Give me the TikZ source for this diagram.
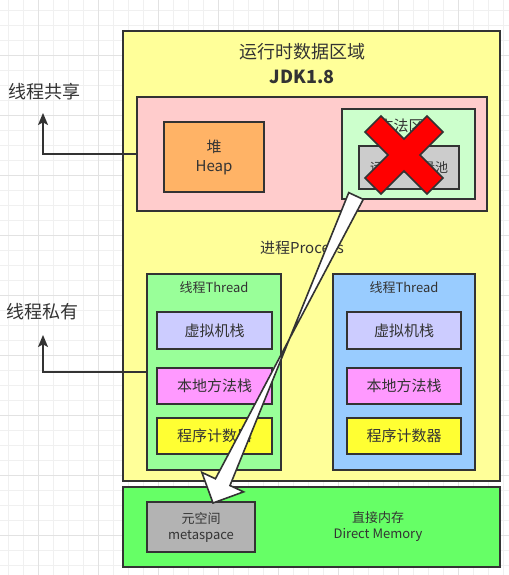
\documentclass[tikz,border=0pt]{standalone}
\usepackage{fontspec}
\setmainfont{Noto Sans CJK SC}
\usepackage{tikz}
\usetikzlibrary{calc,arrows.meta}
\definecolor{edge}{HTML}{333333}
\definecolor{runtime}{HTML}{FFFF99}
\definecolor{shared}{HTML}{FFCCCC}
\definecolor{heapc}{HTML}{FFB366}
\definecolor{methodc}{HTML}{CCFFCC}
\definecolor{poolc}{HTML}{CCCCCC}
\definecolor{threadA}{HTML}{99FF99}
\definecolor{threadB}{HTML}{99CCFF}
\definecolor{vmstack}{HTML}{CCCCFF}
\definecolor{native}{HTML}{FF99FF}
\definecolor{pcreg}{HTML}{FFFF33}
\definecolor{direct}{HTML}{66FF66}
\definecolor{metac}{HTML}{B3B3B3}
\definecolor{gridminor}{HTML}{F0F0F0}
\definecolor{gridmajor}{HTML}{E2E2E2}
\tikzset{
  box/.style={draw=edge, line width=1.5pt, inner sep=0pt, text=edge, align=center},
  sz/.style 2 args={minimum width=#1*0.75pt, minimum height=#2*0.75pt},
  txt/.style={text=edge, inner sep=0pt, align=center},
  big/.style={font=\fontsize{13.5pt}{16pt}\selectfont},
  mid/.style={font=\fontsize{11.25pt}{14.25pt}\selectfont},
  small/.style={font=\fontsize{9.75pt}{12pt}\selectfont},
  link/.style={draw=edge, line width=1.1pt, -{Stealth[length=9pt,width=7.5pt,inset=2pt]}},
}

\begin{document}
\begin{tikzpicture}[x=0.75pt,y=-0.75pt]
\useasboundingbox (0,0) rectangle (509,575);
% background grid
\fill[white] (0,0) rectangle (509,575);
\foreach \x in {8,23,...,503} \draw[gridminor,line width=0.75pt] (\x,0) -- (\x,575);
\foreach \y in {10,25,...,565} \draw[gridminor,line width=0.75pt] (0,\y) -- (509,\y);
\foreach \x in {38,98,...,458} \draw[gridmajor,line width=0.75pt] (\x,0) -- (\x,575);
\foreach \y in {55,115,...,535} \draw[gridmajor,line width=0.75pt] (0,\y) -- (509,\y);

% runtime data area
\node[box, fill=runtime, sz={377}{450}] (rt) at (311.5,256) {};
\node[txt, big] (rttitle) at (302,52) {运行时数据区域};
\node[txt, font=\fontsize{13.5pt}{16pt}\bfseries\selectfont] (jdk) at (302,77) {JDK1.8};

% shared part
\node[box, fill=shared, sz={350}{114}] (share) at (312,154) {};
\node[box, fill=heapc, mid, sz={100}{70}] (heap) at (214,157) {堆\\Heap};
\node[box, fill=methodc, sz={133}{90}] (method) at (408.5,154) {};
\node[txt, mid] (methodtitle) at (401,126) {方法区};
\node[box, fill=poolc, small, sz={100}{43}] (pool) at (409,167.5) {运行时常量池};

\node[txt, mid] (process) at (302,248) {进程Process};

% threads
\node[box, fill=threadA, sz={134}{196}] (thA) at (214,372) {};
\node[txt, small] (thAtitle) at (214,288) {线程Thread};
\node[box, fill=vmstack, mid, sz={115}{37}] (vmA) at (214.5,330.5) {虚拟机栈};
\node[box, fill=native, mid, sz={115}{36}] (natA) at (214.5,386) {本地方法栈};
\node[box, fill=pcreg, mid, sz={115}{36}] (pcA) at (214.5,436) {程序计数器};

\node[box, fill=threadB, sz={142}{196}] (thB) at (404,372) {};
\node[txt, small] (thBtitle) at (404,288) {线程Thread};
\node[box, fill=vmstack, mid, sz={114}{37}] (vmB) at (404,330.5) {虚拟机栈};
\node[box, fill=native, mid, sz={114}{36}] (natB) at (404,386) {本地方法栈};
\node[box, fill=pcreg, mid, sz={114}{36}] (pcB) at (404,436) {程序计数器};

% direct memory
\node[box, fill=direct, sz={377}{80}] (dm) at (311.5,527) {};
\node[box, fill=metac, small, sz={108}{50}] (meta) at (201,527) {元空间\\metaspace};
\node[txt, small] (dmtext) at (378,527) {直接内存\\Direct Memory};

% side labels
\node[txt, big] (sharelabel) at (44,92) {线程共享};
\node[txt, big] (privlabel) at (43,312) {线程私有};
\coordinate (sharetip) at (43,113);
\coordinate (privtip) at (43,335);
\draw[link] (share.west) -| (sharetip);
\draw[link] (thA.west) -| (privtip);

% block arrow: method area -> metaspace
\coordinate (tail) at (356,196);
\coordinate (tip) at (213,503);
\coordinate (base) at ($(tip)!0.068!(tail)$);
\draw[draw=edge, fill=white, line width=1.2pt, line join=miter]
  ($(tail)!0.0236!-90:(tip)$) -- ($(base)!0.348!90:(tip)$) -- ($(base)!1!90:(tip)$)
  -- (tip) -- ($(base)!1!-90:(tip)$) -- ($(base)!0.348!-90:(tip)$)
  -- ($(tail)!0.0236!90:(tip)$) -- cycle;

% red cross over the method area
\draw[draw=edge, fill=red, line width=1.2pt, shift={(404,155)}]
  (-39,-23) -- (-23,-39) -- (0,-16) -- (23,-39) -- (39,-23) -- (16,0)
  -- (39,23) -- (23,39) -- (0,16) -- (-23,39) -- (-39,23) -- (-16,0) -- cycle;
\end{tikzpicture}
\end{document}
